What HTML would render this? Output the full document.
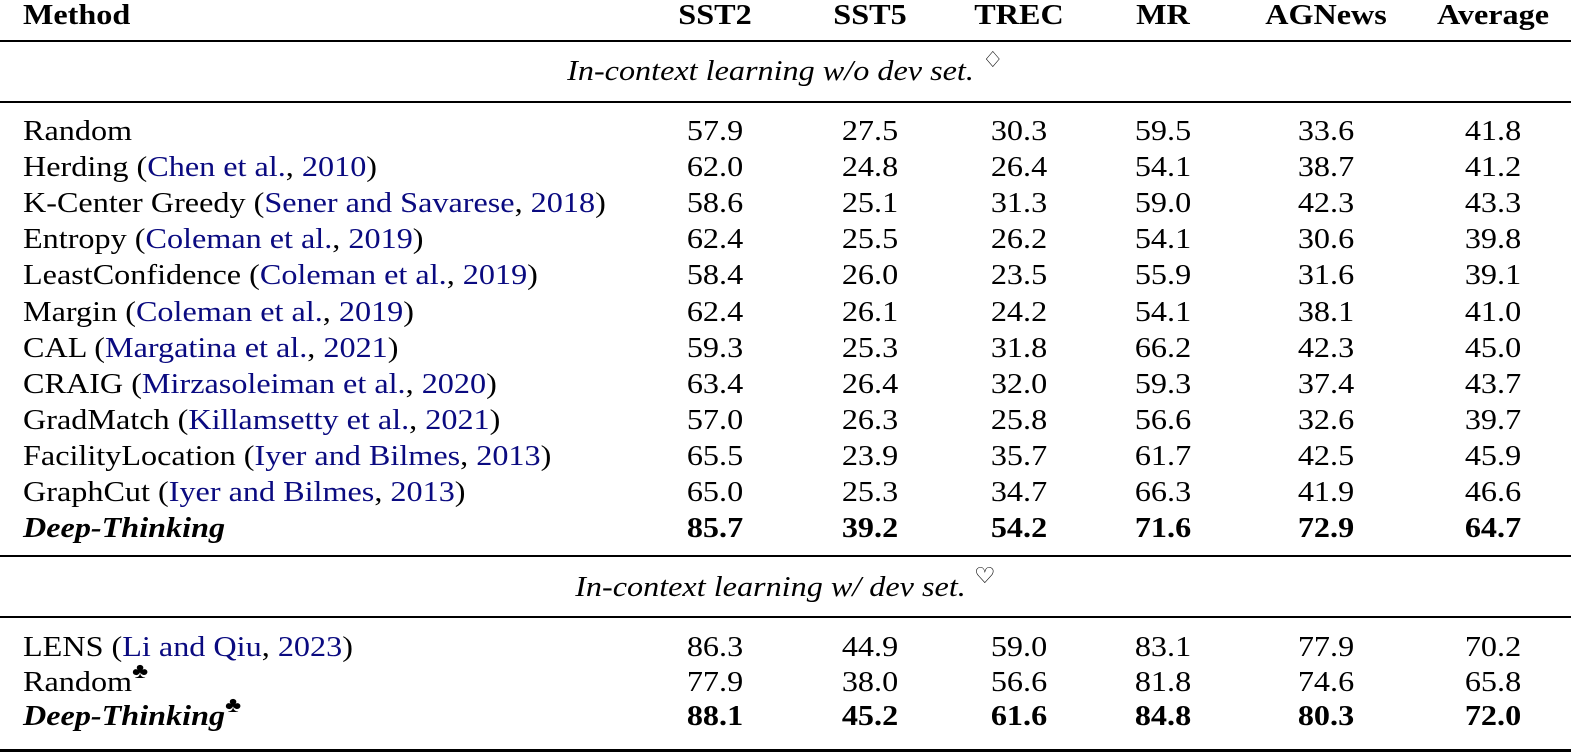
<!DOCTYPE html>
<html><head><meta charset="utf-8">
<style>
body{margin:0;background:#fff;}
#t{position:relative;width:1571px;height:756px;font-family:"Liberation Serif","DejaVu Serif",serif;font-size:29px;color:#000;overflow:hidden;}
.r{position:absolute;left:0;width:1571px;background:#000;}
.c{position:absolute;white-space:nowrap;line-height:1;transform:scaleX(1.11);transform-origin:0 0;}
.c.n{transform:translateX(-50%) scaleX(1.11);transform-origin:50% 0;}
.b{font-weight:bold;}
.bi{font-weight:bold;font-style:italic;}
.lk{color:#0a0a80;}
.sec{position:absolute;left:0;width:1571px;text-align:center;font-style:italic;line-height:1;transform:scaleX(1.11);transform-origin:50% 0;}
sup{font-size:22px;font-style:normal;vertical-align:0;position:relative;top:-13px;}
</style></head><body>
<div id="t">
<div class="r" style="top:40px;height:2px"></div>
<div class="r" style="top:101px;height:2px"></div>
<div class="r" style="top:555px;height:2px"></div>
<div class="r" style="top:616px;height:2px"></div>
<div class="r" style="top:749px;height:3px"></div>
<div class="sec" style="top:57px">In-context learning w/o dev set. <sup>&#9826;</sup></div>
<div class="sec" style="top:573px">In-context learning w/ dev set. <sup>&#9825;</sup></div>
</div>
<script>
const columns=["SST2","SST5","TREC","MR","AGNews","Average"];
const colX=[715,870,1019,1163,1326,1493];
const methods1=[
["Random","",""],
["Herding (","Chen et al., 2010",")"],
["K-Center Greedy (","Sener and Savarese, 2018",")"],
["Entropy (","Coleman et al., 2019",")"],
["LeastConfidence (","Coleman et al., 2019",")"],
["Margin (","Coleman et al., 2019",")"],
["CAL (","Margatina et al., 2021",")"],
["CRAIG (","Mirzasoleiman et al., 2020",")"],
["GradMatch (","Killamsetty et al., 2021",")"],
["FacilityLocation (","Iyer and Bilmes, 2013",")"],
["GraphCut (","Iyer and Bilmes, 2013",")"]];
const values1=[
[57.9,27.5,30.3,59.5,33.6,41.8],
[62.0,24.8,26.4,54.1,38.7,41.2],
[58.6,25.1,31.3,59.0,42.3,43.3],
[62.4,25.5,26.2,54.1,30.6,39.8],
[58.4,26.0,23.5,55.9,31.6,39.1],
[62.4,26.1,24.2,54.1,38.1,41.0],
[59.3,25.3,31.8,66.2,42.3,45.0],
[63.4,26.4,32.0,59.3,37.4,43.7],
[57.0,26.3,25.8,56.6,32.6,39.7],
[65.5,23.9,35.7,61.7,42.5,45.9],
[65.0,25.3,34.7,66.3,41.9,46.6]];
const deep1=[85.7,39.2,54.2,71.6,72.9,64.7];
const values2=[
[86.3,44.9,59.0,83.1,77.9,70.2],
[77.9,38.0,56.6,81.8,74.6,65.8]];
const deep2=[88.1,45.2,61.6,84.8,80.3,72.0];
const T=document.getElementById('t');
function add(html,x,top,cls,name,center){
 const d=document.createElement('div');
 d.className='c '+(cls||'')+(center?' n':'');
 d.style.left=x+'px';d.style.top=top+'px';
 d.innerHTML=html;
 
 
 T.appendChild(d);
}
const asc=26;
add('Method',23,23-asc+4,'b','header-method',false);
columns.forEach((c,i)=>add(c,colX[i],23-asc+4,'b','header-'+c.toLowerCase(),true));
function row(label,vals,base,cls,name,labelCls){
 add(label,23,base-asc+4,labelCls||cls,name+'-label',false);
 vals.forEach((v,i)=>add(v.toFixed(1),colX[i],base-asc+4,cls,name+'-'+columns[i].toLowerCase(),true));
}
methods1.forEach((m,k)=>{
 const lab=m[1]?m[0]+'<span class="lk">'+m[1].replace(/, (\d+)$/,'</span>, <span class="lk">$1')+'</span>'+m[2]:m[0];
 row(lab,values1[k],139+k*36.1,'','row-'+k);
});
row('Deep-Thinking',deep1,536,'b','row-deep-thinking','bi');
row('LENS (<span class="lk">Li and Qiu</span>, <span class="lk">2023</span>)',values2[0],655,'','row-lens');
row('Random<sup>&#9827;</sup>',values2[1],690,'','row-random-dev');
row('Deep-Thinking<sup>&#9827;</sup>',deep2,724,'b','row-deep-thinking-dev','bi');
</script>
</body></html>
